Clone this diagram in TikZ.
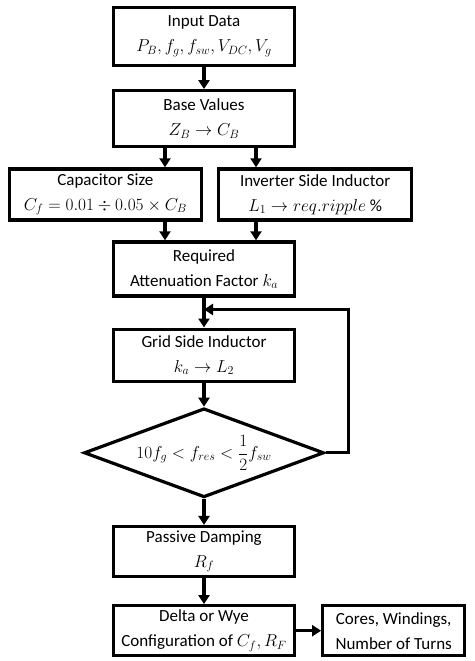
\documentclass[tikz,border=0pt]{standalone}
\usepackage{fontspec}
\setmainfont{Carlito}
\usetikzlibrary{positioning, calc, shapes.geometric, arrows.meta}
\tikzset{
    Box/.style = {
        draw=lineColor,
        line width=3.2pt,
        align=center,
        inner sep=2pt,
        minimum width=181pt,
        font=\fontsize{17}{25}\selectfont
    },
    Arrow/.style = {
        line width=3.2pt,
        color=lineColor,
        -{Triangle[length=9pt, width=11pt]}
    }
}
\definecolor{lineColor}{HTML}{000000}

\begin{document}
\begin{tikzpicture}
    \useasboundingbox (0,0) rectangle (474pt,-661pt);
    \node [Box, minimum height=58pt] (In) at (204pt,-36.5pt) {Input Data\\$P_B, f_g, f_{sw}, V_{DC}, V_g$};
    \node [Box, minimum height=56pt, below=22pt of In] (B) {Base Values\\$Z_B \rightarrow C_B$};
    \node [Box, minimum height=51pt, minimum width=192pt, below left=19pt and 1pt of B.south] (C) {Capacitor Size\\$C_f = 0.01 \div 0.05 \times C_B$};
    \node [Box, minimum height=51pt, minimum width=193pt, below right=19pt and 13pt of B.south] (L1) {Inverter Side Inductor\\$L_1 \rightarrow req.ripple$ \%};
    \node [Box, minimum height=54pt, below=92pt of B] (K) {Required\\Attenuation Factor $k_a$};
    \node [Box, minimum height=52pt, below=30pt of K] (L2) {Grid Side Inductor\\$k_a \rightarrow L_2$};
    \node [Box, diamond, aspect=2.65, inner sep=0pt, minimum width=240pt, minimum height=89pt, below=24pt of L2] (D) {$\displaystyle 10f_g < f_{res} < \frac{1}{2}f_{sw}$};
    \node [Box, minimum height=50pt, below=26pt of D] (R) {Passive Damping\\$R_f$};
    \node [Box, minimum height=50pt, below=26pt of R] (W) {Delta or Wye\\Configuration of $C_f, R_F$};
    \node [Box, minimum height=50pt, minimum width=142pt, right=25pt of W] (N) {Cores, Windings,\\Number of Turns};
    \coordinate (J) at ($(K.south)!0.4!(L2.north)$);
    \draw [Arrow] (In) to (B);
    \draw [Arrow] ([xshift=-39pt]B.south) to ([xshift=-39pt]B.south |- C.north);
    \draw [Arrow] ([xshift=52pt]B.south) to ([xshift=52pt]B.south |- L1.north);
    \draw [Arrow] ([xshift=-39pt]K.north |- C.south) to ([xshift=-39pt]K.north);
    \draw [Arrow] ([xshift=52pt]K.north |- L1.south) to ([xshift=52pt]K.north);
    \draw [Arrow] (K) to (L2);
    \draw [Arrow] (D.east) -- ++(23pt,0) |- (J);
    \draw [Arrow] (L2) to (D);
    \draw [Arrow] (D) to (R);
    \draw [Arrow] (R) to (W);
    \draw [Arrow] (W) to (N);
  \end{tikzpicture}
\end{document}
